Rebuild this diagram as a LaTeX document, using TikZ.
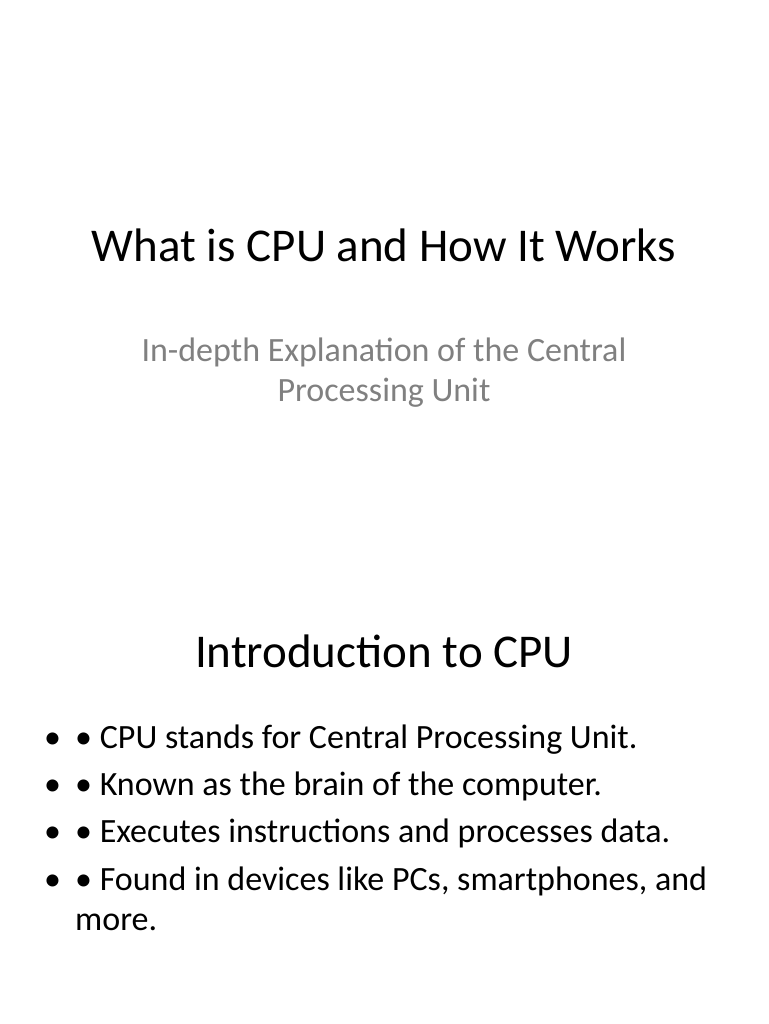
\documentclass[tikz,border=0pt]{standalone}
\usepackage{fontspec}
\setmainfont{Carlito}
\begin{document}
\begin{tikzpicture}[x=1pt,y=-1pt,
  title/.style={font=\fontsize{47}{56}\selectfont,anchor=center},
  sub/.style={font=\fontsize{34}{40}\selectfont,text=black!50,align=center,anchor=center},
  bul/.style={font=\fontsize{34}{40}\selectfont,anchor=base west,inner sep=0pt}]
\useasboundingbox (0,0) rectangle (768,1024);
\fill[white] (0,0) rectangle (768,1024);
\node[title] (t1) at (384,245) {What is CPU and How It Works};
\node[sub] (s1) at (384,373) {In-depth Explanation of the Central\\Processing Unit};
\node[title] (t2) at (384,651) {Introduction to CPU};
\foreach \y/\t [count=\i] in {748/{• CPU stands for Central Processing Unit.},795/{• Known as the brain of the computer.},842/{• Executes instructions and processes data.},890/{• Found in devices like PCs, smartphones, and}}{
  \node[bul] (d\i) at (44,\y) {•};
  \node[bul] (b\i) at (75,\y) {\t};
}
\node[bul] (b5) at (75,930) {more.};
\end{tikzpicture}
\end{document}
